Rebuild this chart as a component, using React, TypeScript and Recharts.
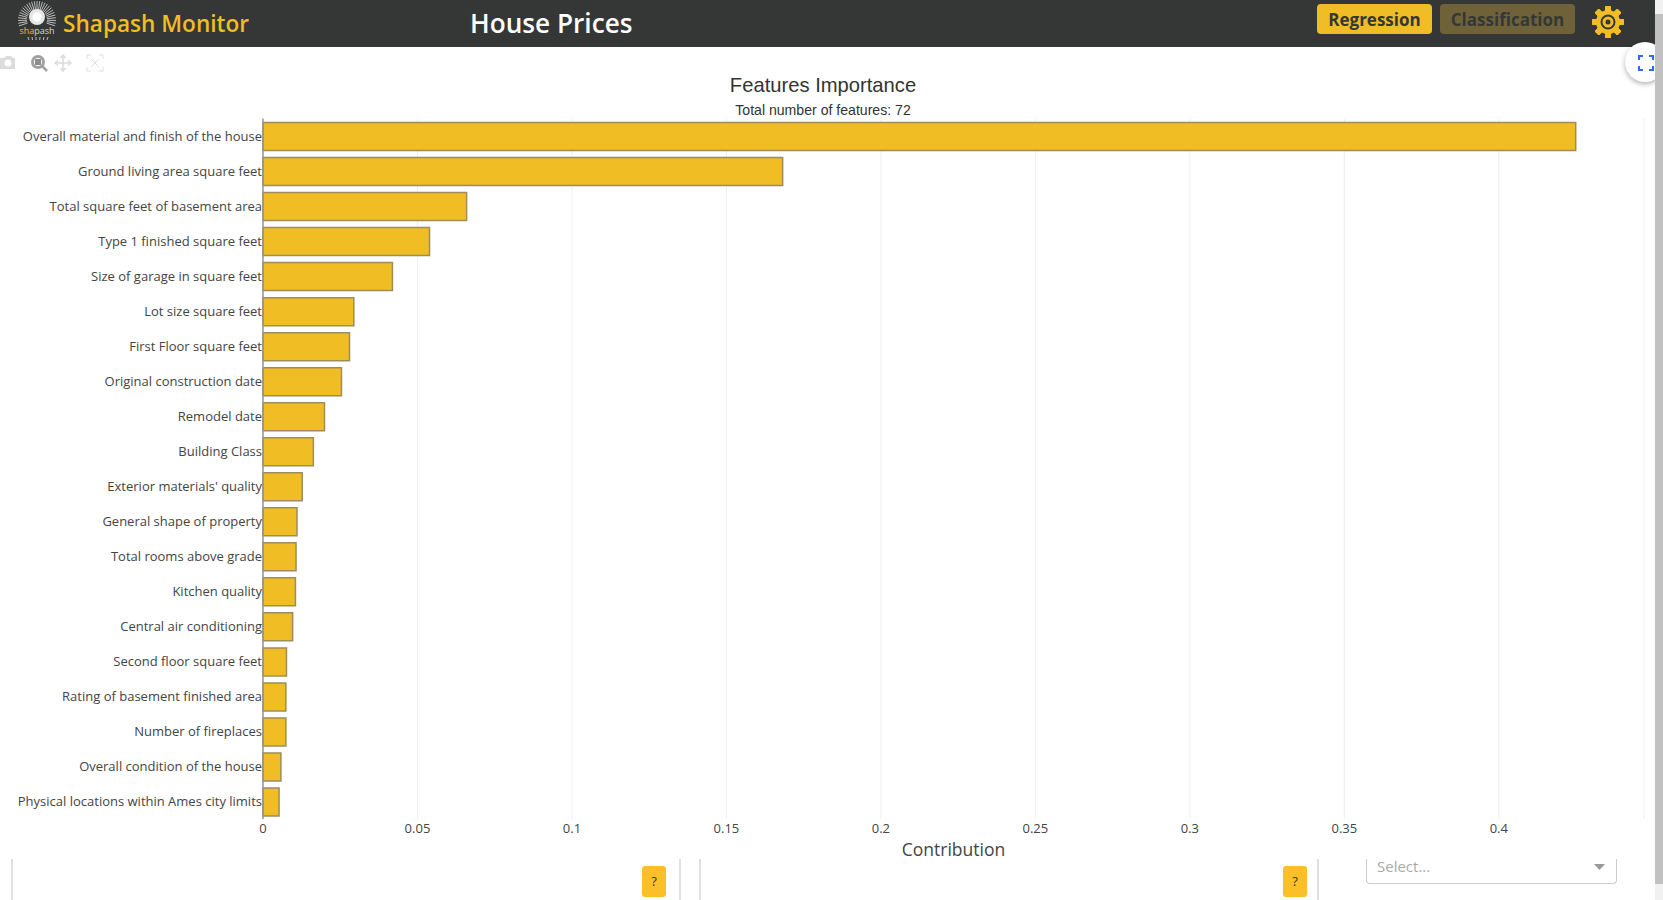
import { BarChart, Bar, XAxis, YAxis, CartesianGrid } from 'recharts';

const features = [
  'Overall material and finish of the house',
  'Ground living area square feet',
  'Total square feet of basement area',
  'Type 1 finished square feet',
  'Size of garage in square feet',
  'Lot size square feet',
  'First Floor square feet',
  'Original construction date',
  'Remodel date',
  'Building Class',
  "Exterior materials' quality",
  'General shape of property',
  'Total rooms above grade',
  'Kitchen quality',
  'Central air conditioning',
  'Second floor square feet',
  'Rating of basement finished area',
  'Number of fireplaces',
  'Overall condition of the house',
  'Physical locations within Ames city limits',
];
const contributions = [
  0.4249, 0.1682, 0.0659, 0.0539, 0.0419, 0.0294, 0.028, 0.0254, 0.0199, 0.0163,
  0.0127, 0.011, 0.0107, 0.0105, 0.0096, 0.0076, 0.0074, 0.0074, 0.0058, 0.0052,
];
const xTicks = [0, 0.05, 0.1, 0.15, 0.2, 0.25, 0.3, 0.35, 0.4];

const data = features.map((name, i) => ({ name, value: contributions[i] }));

const GOLD = '#f1bd25';
const DARK = '#353736';
const UI_FONT = '"Open Sans", sans-serif';
const PLOT_FONT = '"Liberation Sans", Arial, sans-serif';

// recharts wraps long category labels, so draw them on one line
const FeatureTick = ({ x, y, payload }: any) => (
  <text x={x} y={y} dy={4.5} textAnchor="end" fontSize={13} fill="#444" fontFamily={UI_FONT}>
    {payload.value}
  </text>
);

const Logo = () => (
  <svg width="44" height="46" style={{ position: 'absolute', left: 16, top: 0 }}>
    {Array.from({ length: 27 }).map((_, i) => {
      const a = Math.PI * (0.9 + (i * 1.2) / 26);
      return (
        <line key={i} x1={21 + 10 * Math.cos(a)} y1={20 + 10 * Math.sin(a)} x2={21 + 19 * Math.cos(a)} y2={20 + 19 * Math.sin(a)} stroke="#bdbdbd" strokeWidth="1" />
      );
    })}
    <circle cx="21" cy="17" r="8" fill="#e6e6e6" />
    <circle cx="21" cy="17" r="4.5" fill="#fff" />
    <text x="21" y="34" textAnchor="middle" fontSize="9" fontFamily={UI_FONT}>
      <tspan fill={GOLD}>sha</tspan>
      <tspan fill="#d8d8d8">pash</tspan>
    </text>
    {[-9, -5, -1, 3, 7, 11].map((dx) => (
      <line key={dx} x1={21 + dx} y1={37} x2={21 + dx * 0.9} y2={40} stroke="#bdbdbd" strokeWidth="1" />
    ))}
  </svg>
);

const Gear = () => (
  <svg width="34" height="34" style={{ position: 'absolute', left: 1591, top: 5 }}>
    {[0, 45, 90, 135, 180, 225, 270, 315].map((d) => (
      <rect key={d} x="14" y="1" width="6" height="32" rx="1" fill={GOLD} transform={`rotate(${d} 17 17)`} />
    ))}
    <circle cx="17" cy="17" r="12" fill={GOLD} />
    <circle cx="17" cy="17" r="6.5" fill={GOLD} stroke={DARK} strokeWidth="2" />
    <circle cx="17" cy="17" r="2.5" fill={DARK} />
  </svg>
);

const Toolbar = () => (
  <svg width="110" height="24" style={{ position: 'absolute', left: 0, top: 50 }}>
    <path d="M0 8H4L6 6H11L13 8H15V19H0Z" fill="#dcdcdc" />
    <circle cx="8" cy="13" r="3.5" fill="#fff" />
    <circle cx="38" cy="12" r="5.5" fill="none" stroke="#a0a0a0" strokeWidth="3" />
    <rect x="35" y="9" width="6" height="6" fill="#8c8c8c" />
    <line x1="42" y1="16" x2="47" y2="21" stroke="#a0a0a0" strokeWidth="2.5" />
    <path d="M63 5V21M55 13H71M60.5 8L63 5L65.5 8M60.5 18L63 21L65.5 18M58 10.5L55 13L58 15.5M68 10.5L71 13L68 15.5" stroke="#dcdcdc" strokeWidth="1.5" fill="none" />
    <path d="M87 9V5H91M99 5H103V9M103 17V21H99M91 21H87V17M91 9L99 17M99 9L91 17" stroke="#e0e0e0" strokeWidth="1" fill="none" />
  </svg>
);

const Text = ({ x, y, size, color, children, weight = 400, font = UI_FONT, center = false }: any) => (
  <div
    style={{
      position: 'absolute',
      left: x,
      top: y,
      fontSize: size,
      color,
      fontWeight: weight,
      fontFamily: font,
      lineHeight: 1,
      whiteSpace: 'nowrap',
      transform: center ? 'translate(-50%, -50%)' : 'translateY(-50%)',
    }}
  >
    {children}
  </div>
);

const Button = ({ x, width, bg, children }: any) => (
  <div
    style={{
      position: 'absolute',
      left: x,
      top: 4,
      width,
      height: 30,
      background: bg,
      borderRadius: 4,
      color: DARK,
      fontFamily: UI_FONT,
      fontWeight: 700,
      fontSize: 17,
      lineHeight: '31px',
      textAlign: 'center',
    }}
  >
    {children}
  </div>
);

const HelpButton = ({ x }: any) => (
  <div
    style={{
      position: 'absolute',
      left: x,
      top: 866,
      width: 24,
      height: 31,
      background: '#fbbf28',
      borderRadius: 3,
      fontSize: 13,
      lineHeight: '31px',
      textAlign: 'center',
      color: '#333',
      fontFamily: UI_FONT,
    }}
  >
    ?
  </div>
);

const Panel = ({ x, width }: any) => (
  <div
    style={{
      position: 'absolute',
      left: x,
      top: 859,
      width,
      height: 41,
      borderLeft: '2px solid #e0e0e0',
      borderRight: '2px solid #e0e0e0',
    }}
  />
);

export default function App() {
  return (
    <div style={{ position: 'fixed', left: 0, top: 0, width: 1663, height: 900, background: '#fff', overflow: 'hidden' }}>
      <div style={{ position: 'absolute', left: 0, top: 0, width: 1663, height: 47, background: DARK }} />
      <Logo />
      <Text x={63} y={23.5} size={22.6} color={GOLD} weight={600}>Shapash Monitor</Text>
      <Text x={470} y={22.5} size={26.2} color="#fff" weight={600}>House Prices</Text>
      <Button x={1317} width={115} bg={GOLD}>Regression</Button>
      <Button x={1440} width={135} bg="#6f6238">Classification</Button>
      <Gear />
      <Toolbar />

      <BarChart
        width={1663}
        height={900}
        data={data}
        layout="vertical"
        margin={{ top: 118.5, right: 19, bottom: 0, left: 0 }}
        style={{ position: 'absolute', left: 0, top: 0 }}
      >
        <CartesianGrid horizontal={false} stroke="#eeeeee" />
        <XAxis
          type="number"
          dataKey="value"
          domain={[0, 0.447]}
          ticks={xTicks}
          axisLine={false}
          tickLine={false}
          height={81}
          interval={0}
          tickSize={0}
          tickMargin={5}
          tick={{ fill: '#444', fontSize: 13, fontFamily: UI_FONT }}
          label={{ value: 'Contribution', position: 'insideTop', offset: 25, fill: '#444', fontSize: 17.5, fontFamily: UI_FONT }}
        />
        <YAxis
          type="category"
          dataKey="name"
          width={263}
          interval={0}
          tickLine={false}
          tickSize={0}
          tickMargin={1}
          axisLine={{ stroke: '#969696', strokeWidth: 1.5 }}
          tick={<FeatureTick />}
        />
        <Bar dataKey="value" fill={GOLD} stroke="#9d8d5c" strokeWidth={1.5} barSize={28} isAnimationActive={false} />
      </BarChart>

      <Text x={823} y={85} size={20.2} color="#333" font={PLOT_FONT} center>Features Importance</Text>
      <Text x={823} y={110} size={14.1} color="#333" font={PLOT_FONT} center>Total number of features: 72</Text>

      <div style={{ position: 'absolute', left: 1625, top: 42, width: 40, height: 40, borderRadius: 20, background: '#fff', boxShadow: '0 2px 5px rgba(0,0,0,0.3)' }} />
      <svg width="16" height="16" style={{ position: 'absolute', left: 1638, top: 55 }}>
        <path d="M1 5V1H5M11 1H15V5M15 11V15H11M5 15H1V11" stroke="#2f6bf0" strokeWidth="2" fill="none" />
      </svg>

      <Panel x={11} width={666} />
      <Panel x={699} width={616} />
      <HelpButton x={642} />
      <HelpButton x={1283} />
      <div style={{ position: 'absolute', left: 1366, top: 859, width: 249, height: 24, border: '1px solid #ccc', borderTop: 'none', borderRadius: '0 0 4px 4px', background: '#fff' }} />
      <Text x={1377} y={866} size={15} color="#aaa">Select...</Text>
      <svg width="12" height="8" style={{ position: 'absolute', left: 1594, top: 864 }}>
        <path d="M0 0H11L5.5 6Z" fill="#999" />
      </svg>

      <div style={{ position: 'absolute', left: 1655, top: 0, width: 8, height: 900, background: '#f1f1f1' }} />
      <div style={{ position: 'absolute', left: 1655, top: 14, width: 8, height: 870, background: '#c1c1c1' }} />
    </div>
  );
}
